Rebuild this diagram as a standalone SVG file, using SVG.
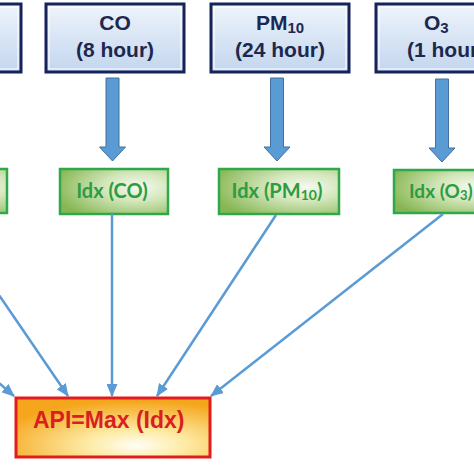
<svg xmlns="http://www.w3.org/2000/svg" width="474" height="474" viewBox="0 0 474 474">
<defs>
<linearGradient id="gBlue" x1="0" y1="0" x2="0" y2="1">
<stop offset="0" stop-color="#eef4fb"/>
<stop offset="1" stop-color="#c3d6ee"/>
</linearGradient>
<radialGradient id="gGreen" cx="0.72" cy="0.4" r="0.8">
<stop offset="0" stop-color="#f6faf0"/>
<stop offset="0.4" stop-color="#d2e6ba"/>
<stop offset="1" stop-color="#86b652"/>
</radialGradient>
<radialGradient id="gApi" cx="0.62" cy="0.8" r="0.75">
<stop offset="0" stop-color="#fffef4"/>
<stop offset="0.35" stop-color="#fdeaa2"/>
<stop offset="1" stop-color="#f5a61c"/>
</radialGradient>
<marker id="ah" markerUnits="userSpaceOnUse" markerWidth="13" markerHeight="11" refX="12" refY="5.5" orient="auto">
<path d="M0,0 L13,5.5 L0,11 z" fill="#5b9bd5"/>
</marker>
</defs>
<style>
.top{fill:url(#gBlue);stroke:#16235a;stroke-width:3}
.topin{fill:none;stroke:#ffffff;stroke-width:1}
.tt{font-family:"Liberation Sans",Arial,sans-serif;font-weight:bold;font-size:21px;fill:#1c2850;text-anchor:middle}
.idx{fill:url(#gGreen);stroke:#2ea84a;stroke-width:2.5}
.it{font-family:Lato,"Liberation Sans",sans-serif;font-weight:bold;font-size:20px;fill:#2e9c40;text-anchor:middle}
.blk{fill:#5b9bd5;stroke:#41719c;stroke-width:1}
.ln{stroke:#5b9bd5;stroke-width:2.5;fill:none;marker-end:url(#ah)}
.api{fill:url(#gApi);stroke:#e21c1c;stroke-width:3}
.at{font-family:"Liberation Sans",Arial,sans-serif;font-weight:bold;font-size:23px;fill:#d91f1f}
</style>
<g id="src-left">
<rect class="top" x="-119" y="4" width="140" height="68"/>
<rect class="topin" x="-116" y="7" width="134" height="62"/>
</g>
<g id="src-co">
<rect class="top" x="46" y="4" width="138" height="68"/>
<rect class="topin" x="49" y="7" width="132" height="62"/>
<text class="tt" x="115" y="30">CO</text>
<text class="tt" x="115" y="57">(8 hour)</text>
</g>
<g id="src-pm10">
<rect class="top" x="211" y="4" width="138" height="68"/>
<rect class="topin" x="214" y="7" width="132" height="62"/>
<text class="tt" x="280" y="30">PM<tspan font-size="15" dy="3">10</tspan></text>
<text class="tt" x="280" y="57">(24 hour)</text>
</g>
<g id="src-o3">
<rect class="top" x="376" y="4" width="140" height="68"/>
<rect class="topin" x="379" y="7" width="134" height="62"/>
<text class="tt" x="424" y="30" style="text-anchor:start">O<tspan font-size="15" dy="3">3</tspan></text>
<text class="tt" x="407" y="57" style="text-anchor:start">(1 hour)</text>
</g>
<g id="block-arrows">
<path class="blk" d="M106,78 H119 V147 H125.5 L112.5,161 L99.5,147 H106 Z"/>
<path class="blk" d="M270.5,78 H283.5 V147 H290 L277,161 L264,147 H270.5 Z"/>
<path class="blk" d="M435.5,79 H448.5 V148 H455 L442,162 L429,148 H435.5 Z"/>
</g>
<g id="idx-left">
<rect class="idx" x="-110" y="169" width="117" height="44"/>
</g>
<g id="idx-co">
<rect class="idx" x="60" y="169" width="108" height="45"/>
<text class="it" x="112" y="198">Idx (CO)</text>
</g>
<g id="idx-pm10">
<rect class="idx" x="219" y="169" width="120" height="45"/>
<text class="it" x="277" y="198">Idx (PM<tspan font-size="14" dy="2">10</tspan><tspan dy="-2">)</tspan></text>
</g>
<g id="idx-o3">
<rect class="idx" x="394" y="170" width="110" height="43"/>
<text class="it" x="409" y="198" style="text-anchor:start;font-size:19px">Idx (O<tspan font-size="13" dy="2">3</tspan><tspan dy="-2">)</tspan></text>
</g>
<g id="connectors">
<line class="ln" x1="-40" y1="349" x2="14" y2="396"/>
<line class="ln" x1="-57" y1="213" x2="68" y2="396"/>
<line class="ln" x1="112" y1="214" x2="112" y2="396"/>
<line class="ln" x1="276" y1="215" x2="157" y2="396"/>
<line class="ln" x1="443" y1="214" x2="211" y2="396"/>
</g>
<g id="api">
<rect class="api" x="16" y="398" width="194" height="59"/>
<text class="at" x="33" y="428">API=Max (Idx)</text>
</g>
</svg>
